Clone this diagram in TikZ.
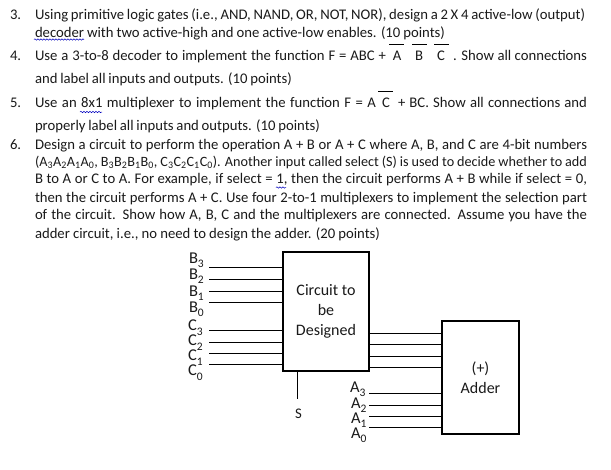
\documentclass[tikz,border=0pt]{standalone}
\usepackage{fontspec}
\setmainfont{Carlito}
\usetikzlibrary{decorations.pathmorphing}
\definecolor{ink}{HTML}{1A1A1A}
\newcommand{\jb}[2]{\makebox[#1pt][s]{#2}}
\newcommand{\sbs}[1]{\textsubscript{#1}}
\newcommand{\psb}[1]{\raisebox{-4.5pt}{\fontsize{11.5}{12}\selectfont #1}}
\tikzset{
  txt/.style={anchor=base west,inner sep=0pt,outer sep=0pt,text=ink,font=\fontsize{14.7}{17}\selectfont},
  ltr/.style={anchor=base,inner sep=0pt,outer sep=0pt,text=ink,font=\fontsize{14.7}{17}\selectfont},
  pin/.style={anchor=base west,inner sep=0pt,outer sep=0pt,text=ink,font=\fontsize{16.5}{18}\selectfont},
  blockbox/.style={draw=black,line width=2pt,inner sep=0pt,align=center,text=ink,font=\fontsize{16}{19.7}\selectfont},
  wire/.style={draw=black,line width=0.9pt},
  obar/.style={draw=black,line width=0.8pt},
  squig/.style={draw=blue!75!black,line width=0.5pt,decorate,decoration={snake,amplitude=0.7pt,segment length=3pt}}
}
\begin{document}
\begin{tikzpicture}[x=1pt,y=-1pt]
\useasboundingbox (0,0) rectangle (611,469);
\fill[white] (0,0) rectangle (611,469);
% question text
\node[txt] (n3) at (10,19) {3.};
\node[txt] (l1) at (35,19) {\jb{550}{Using primitive logic gates (i.e., AND, NAND, OR, NOT, NOR), design a 2 X 4 active-low (output)}};
\node[txt] (l2) at (35,37) {\jb{410}{decoder with two active-high and one active-low enables. (10 points)}};
\node[txt] (n4) at (10,60) {4.};
\node[txt] (l3a) at (35,60) {\jb{351}{Use a 3-to-8 decoder to implement the function F = ABC +}};
\node[ltr] (l3A) at (397,60) {A};
\node[ltr] (l3B) at (419,60) {B};
\node[ltr] (l3C) at (441,60) {C};
\node[txt] (l3b) at (453,60) {\jb{134}{. Show all connections}};
\node[txt] (l4) at (35,83) {\jb{257}{and label all inputs and outputs. (10 points)}};
\node[txt] (n5) at (10,107) {5.};
\node[txt] (l5a) at (35,107) {\jb{341}{Use an 8x1 multiplexer to implement the function F = A}};
\node[ltr] (l5C) at (386,107) {C};
\node[txt] (l5b) at (398,107) {\jb{189}{+ BC. Show all connections and}};
\node[txt] (l6) at (35,130) {\jb{285}{properly label all inputs and outputs. (10 points)}};
\node[txt] (n6) at (10,149) {6.};
\node[txt] (l7) at (35,149) {\jb{552}{Design a circuit to perform the operation A + B or A + C where A, B, and C are 4-bit numbers}};
\node[txt,font=\fontsize{14.2}{17}\selectfont] (l8) at (35,166) {\jb{552}{(A\sbs{3}A\sbs{2}A\sbs{1}A\sbs{0}, B\sbs{3}B\sbs{2}B\sbs{1}B\sbs{0}, C\sbs{3}C\sbs{2}C\sbs{1}C\sbs{0}). Another input called select (S) is used to decide whether to add}};
\node[txt] (l9) at (35,183) {\jb{552}{B to A or C to A. For example, if select = 1, then the circuit performs A + B while if select = 0,}};
\node[txt] (l10) at (35,202) {\jb{552}{then the circuit performs A + C. Use four 2-to-1 multiplexers to implement the selection part}};
\node[txt] (l11) at (35,219) {\jb{552}{of the circuit. Show how A, B, C and the multiplexers are connected. Assume you have the}};
\node[txt] (l12) at (35,238) {\jb{345}{adder circuit, i.e., no need to design the adder. (20 points)}};
% overbars and spelling marks
\draw[obar] (389,44) -- (404,44) (412,44) -- (427,44) (434,44) -- (449,44);
\draw[obar] (378,91) -- (393,91);
\draw[squig] (34,39.5) -- (84,39.5);
\draw[squig] (80,112) -- (102,112);
\draw[squig] (276,187.5) -- (286,187.5);
% blocks
\node[blockbox,minimum width=86pt,minimum height=119pt] (circ) at (326,311.5) {Circuit to\\be\\Designed};
\node[blockbox,minimum width=77pt,minimum height=113pt] (add) at (480.5,377.5) {(+)\\Adder};
% pin labels
\node[pin] (B3) at (189,263) {B\psb{3}};
\node[pin] (B2) at (189,279) {B\psb{2}};
\node[pin] (B1) at (189,296) {B\psb{1}};
\node[pin] (B0) at (189,312) {B\psb{0}};
\node[pin] (C3) at (188,330.5) {C\psb{3}};
\node[pin] (C2) at (188,345.5) {C\psb{2}};
\node[pin] (C1) at (188,360.5) {C\psb{1}};
\node[pin] (C0) at (188,375.5) {C\psb{0}};
\node[pin] (A3) at (350,392) {A\psb{3}};
\node[pin] (A2) at (351,408) {A\psb{2}};
\node[pin] (A1) at (351,423) {A\psb{1}};
\node[pin] (A0) at (351,438) {A\psb{0}};
\node[pin,font=\fontsize{14.7}{17}\selectfont] (S) at (295,418) {S};
% free wire ends
\foreach \n/\y in {b3/267,b2/279,b1/291,b0/302,c3/330,c2/342,c1/353,c0/364}
  \coordinate (\n) at (209,\y);
\foreach \n/\y in {a3/393,a2/405,a1/416,a0/427}
  \coordinate (\n) at (369,\y);
\foreach \n/\y in {o3/333,o2/344,o1/356,o0/367}
  \coordinate (\n) at (369,\y);
\coordinate (st) at (297,371);
\coordinate (se) at (297,399);
% wires
\foreach \n in {b3,b2,b1,b0,c3,c2,c1,c0}
  \draw[wire] (\n) -- (\n -| circ.west);
\foreach \n in {a3,a2,a1,a0,o3,o2,o1,o0}
  \draw[wire] (\n) -- (\n -| add.west);
\draw[wire] (st) -- (se);
\end{tikzpicture}
\end{document}
